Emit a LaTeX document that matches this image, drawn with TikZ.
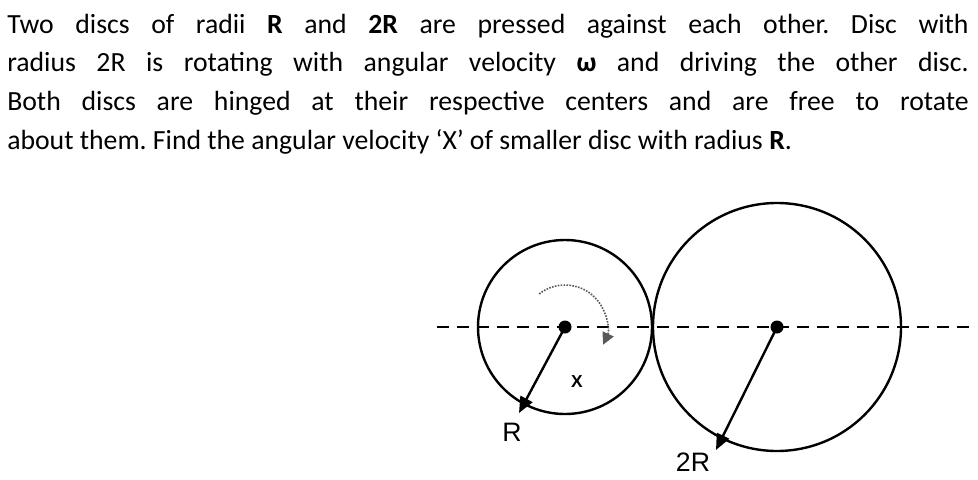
\documentclass[tikz,border=0pt]{standalone}
\usepackage{fontspec}
\setmainfont{Carlito}
\newfontfamily\arialf{Liberation Sans}
\usetikzlibrary{arrows.meta,calc}
\frenchspacing
\begin{document}
\begin{tikzpicture}[x=0.75pt,y=-0.75pt,
  txt/.style={anchor=base west,inner sep=0pt,font=\fontsize{20.8pt}{24pt}\selectfont},
  disc/.style={draw,line width=1.8pt},
  rad/.style={line width=1.8pt,-{Triangle[length=12pt,width=10pt]}},
  lbl/.style={font=\arialf\fontsize{20pt}{22pt}\selectfont,inner sep=0pt}]
\useasboundingbox[fill=white] (0,0) rectangle (978,479);
\node[txt] (l1) at (7,33) {\makebox[721pt][s]{Two discs of radii \textbf{R} and \textbf{2R} are pressed against each other. Disc with}};
\node[txt] (l2) at (7,71) {\makebox[721pt][s]{radius 2R is rotating with angular velocity \textbf{ω} and driving the other disc.}};
\node[txt] (l3) at (7,110) {\makebox[721pt][s]{Both discs are hinged at their respective centers and are free to rotate}};
\node[txt] (l4) at (7,149) {about them. Find the angular velocity ‘X’ of smaller disc with radius \textbf{R}.};
\coordinate (c1) at (565,327);
\coordinate (c2) at (777,327);
\draw[line width=1.5pt,dash pattern=on 9pt off 6pt] (437,327) coordinate (dl) -- (975,327) coordinate (dr);
\draw[disc] (c1) circle (87);
\draw[disc] (c2) circle (124);
\fill (c1) circle (6.5);
\fill (c2) circle (6.5);
\coordinate (t1) at (519,413);
\coordinate (t2) at (716,450);
\draw[rad] (c1) -- (t1);
\draw[rad] (c2) -- (t2);
\draw[gray!70!black,line width=1.2pt,densely dotted,-{Triangle[length=9pt,width=9pt]}] ($(c1)+(-128:42)$) arc (-128:25:42);
\node[lbl] (x) at (577,382) {\fontsize{13pt}{15pt}\selectfont\bfseries X};
\node[lbl] (r) at (512,432) {R};
\node[lbl] (r2) at (693,462) {2R};
\end{tikzpicture}
\end{document}
